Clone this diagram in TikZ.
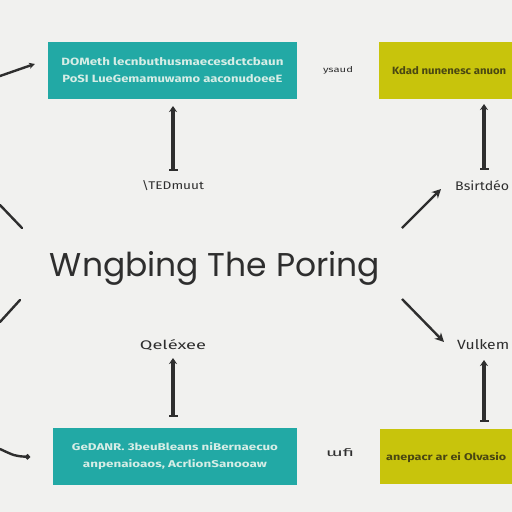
\documentclass[tikz,border=0pt]{standalone}
\usepackage{fontspec}
\setmainfont{Fira Sans}
\newfontfamily\titlefont{Poppins}
\usetikzlibrary{arrows.meta}
\definecolor{bg}{HTML}{F1F1EF}
\definecolor{tealbox}{HTML}{22A9A5}
\definecolor{yelbox}{HTML}{C8C40C}
\definecolor{ink}{HTML}{2E2E2E}
\definecolor{boxtxt}{HTML}{D6EDE6}
\definecolor{yeltxt}{HTML}{4A4712}
\tikzset{
  tealnode/.style={fill=tealbox, draw=none, minimum width=#1, minimum height=57pt, inner sep=0pt},
  yelnode/.style={fill=yelbox, draw=none, minimum width=136pt, minimum height=57pt, inner sep=0pt, anchor=west},
  lbl/.style={text=ink, font=\fontsize{10}{12}\selectfont, inner sep=0pt},
  vlink/.style={draw=ink, line width=3.2pt, {Stealth[length=6pt,width=8pt]}-{Bar[width=9pt,line width=2.4pt]}},
  dlink/.style={draw=ink, line width=2.4pt, -{Stealth[length=9pt,width=9pt]}},
  curve/.style={draw=ink, line width=2.4pt, line cap=round},
}
\begin{document}
\begin{tikzpicture}[x=1pt,y=-1pt]
\useasboundingbox (0,0) rectangle (512,512);
\fill[bg] (0,0) rectangle (512,512);

% boxes
\node[tealnode=249pt] (tl) at (172.5,70.5) {};
\node[text=boxtxt, align=center, inner sep=0pt] at (tl.center) {\resizebox{222pt}{8pt}{\bfseries DOMeth lecnbuthusmaecesdctcbaun}\\[5pt]\resizebox{220pt}{8pt}{\bfseries PoSI LueGemamuwamo aaconudoeeE}};
\node[yelnode] (tr) at (379,70.5) {};
\node[text=yeltxt, anchor=west, inner sep=0pt] at (392,71) {\resizebox{114pt}{8pt}{\bfseries Kdad nunenesc anuon}};
\node[tealnode=244pt] (bl) at (175,456.5) {};
\node[text=boxtxt, align=center, inner sep=0pt] at (bl.center) {\resizebox{206pt}{8pt}{\bfseries GeDANR. 3beuBleans niBernaecuo}\\[5pt]\resizebox{184pt}{8pt}{\bfseries anpenaioaos, AcrlionSanooaw}};
\node[yelnode, minimum height=55pt] (br) at (380,456) {};
\node[text=yeltxt, anchor=west, inner sep=0pt] at (386,458) {\resizebox{120pt}{8pt}{\bfseries anepacr ar ei Olvasio}};

% small side labels
\node[lbl] (s1) at (338,70) {\resizebox{30pt}{6pt}{ysaud}};
\node[lbl] (s2) at (340,453) {\resizebox{28pt}{8pt}{ɯfi}};

% labels near arrows
\node[lbl] (l1) at (173,186) {\resizebox{62pt}{9pt}{\textbackslash TEDmuut}};
\node[lbl, anchor=west] (l2) at (455,186) {\resizebox{54pt}{10pt}{Bsirtdéo}};
\node[lbl] (l3) at (173,345) {\resizebox{66pt}{10pt}{Qeléxee}};
\node[lbl, anchor=west] (l4) at (457,345) {\resizebox{52pt}{10pt}{Vulkem}};

% title
\node[text=ink, inner sep=0pt] (title) at (215,268) {\resizebox{330pt}{!}{\titlefont Wngbing The Poring}};

% vertical links
\coordinate (a1t) at (173,106); \coordinate (a1b) at (173,171);
\draw[vlink] (a1t) -- (a1b);
\coordinate (a2t) at (484,104); \coordinate (a2b) at (484,170);
\draw[vlink] (a2t) -- (a2b);
\coordinate (a3t) at (173,358); \coordinate (a3b) at (173,417);
\draw[vlink] (a3t) -- (a3b);
\coordinate (a4t) at (484,360); \coordinate (a4b) at (484,422);
\draw[vlink] (a4t) -- (a4b);

% diagonal links
\coordinate (d1s) at (402,228); \coordinate (d1e) at (441,189);
\draw[dlink] (d1s) -- (d1e);
\coordinate (d2s) at (402,299); \coordinate (d2e) at (444,342);
\draw[dlink] (d2s) -- (d2e);

% left edge strokes
\coordinate (c1s) at (0,76); \coordinate (c1e) at (35,64);
\draw[curve, -{Stealth[length=6pt,width=6pt]}] (c1s) .. controls (15,70) .. (c1e);
\coordinate (c2s) at (0,205); \coordinate (c2e) at (22,228);
\draw[curve] (c2s) -- (c2e);
\coordinate (c3s) at (20,300); \coordinate (c3e) at (0,322);
\draw[curve] (c3s) -- (c3e);
\coordinate (c4s) at (0,449); \coordinate (c4e) at (30,457);
\draw[curve, -{Circle[length=5pt]}] (c4s) .. controls (15,456) .. (c4e);
\end{tikzpicture}
\end{document}
